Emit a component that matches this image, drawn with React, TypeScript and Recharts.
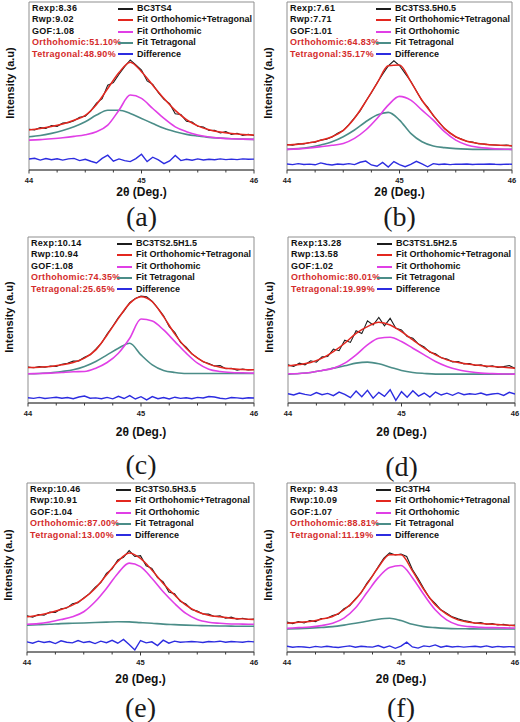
import React from 'react';
import { LineChart, Line, XAxis, YAxis, ReferenceArea } from 'recharts';

// 2θ grids: fitted profiles are sampled every 0.1°, measured data and residuals every 0.05°
const coarseTheta = [44.0, 44.1, 44.2, 44.3, 44.4, 44.5, 44.6, 44.7, 44.8, 44.9, 45.0, 45.1, 45.2, 45.3, 45.4, 45.5, 45.6, 45.7, 45.8, 45.9, 46.0];
const fineTheta = [
  44.0, 44.05, 44.1, 44.15, 44.2, 44.25, 44.3, 44.35, 44.4, 44.45, 44.5, 44.55, 44.6, 44.65, 44.7, 44.75, 44.8, 44.85, 44.9, 44.95,
  45.0, 45.05, 45.1, 45.15, 45.2, 45.25, 45.3, 45.35, 45.4, 45.45, 45.5, 45.55, 45.6, 45.65, 45.7, 45.75, 45.8, 45.85, 45.9, 45.95, 46.0,
];
const thetaTicks = [44, 44.25, 44.5, 44.75, 45, 45.25, 45.5, 45.75, 46];
const thetaLabels = [44, 45, 46];

const sampleNames = ['BC3TS4', 'BC3TS3.5H0.5', 'BC3TS2.5H1.5', 'BC3TS1.5H2.5', 'BC3TS0.5H3.5', 'BC3TH4'];
const panelTags = ['(a)', '(b)', '(c)', '(d)', '(e)', '(f)'];
const rexpLabels = ['Rexp:8.36', 'Rexp:7.61', 'Rexp:10.14', 'Rexp:13.28', 'Rexp:10.46', 'Rexp: 9.43'];
const rwpLabels = ['Rwp:9.02', 'Rwp:7.71', 'Rwp:10.94', 'Rwp:13.58', 'Rwp:10.91', 'Rwp:10.09'];
const gofLabels = ['GOF:1.08', 'GOF:1.01', 'GOF:1.08', 'GOF:1.02', 'GOF:1.04', 'GOF:1.07'];
const orthoShare = ['51.10%', '64.83%', '74.35%', '80.01%', '87.00%', '88.81%'];
const tetraShare = ['48.90%', '35.17%', '25.65%', '19.99%', '13.00%', '11.19%'];

const fitNames = ['Fit Orthohomic+Tetragonal', 'Fit Orthohomic', 'Fit Tetragonal', 'Difference'];

// (a) BC3TS4
const obsA = [24.3, 23.9, 25.2, 24.8, 26.5, 26.0, 27.9, 28.2, 29.3, 31.4, 32.0, 35.2, 39.8, 42.5, 50.5, 52.0, 57.0, 61.5, 65.5, 62.5, 59.5, 53.0, 51.0, 46.0, 42.0, 39.5, 33.5, 33.0, 29.0, 28.5, 26.0, 25.6, 23.5, 23.6, 22.0, 22.8, 21.2, 21.9, 20.6, 21.3, 20.5];
const fitA = [23.8, 24.7, 25.9, 27.4, 29.6, 32.5, 39.0, 48.5, 58.0, 64.2, 58.5, 50.5, 42.5, 35.5, 30.0, 26.3, 24.0, 22.6, 21.7, 21.1, 20.8];
const orthoA = [17.8, 18.1, 18.6, 19.2, 20.0, 21.0, 22.8, 26.7, 35.6, 44.6, 42.6, 36.6, 30.7, 25.7, 22.8, 20.8, 19.6, 19.0, 18.6, 18.4, 18.2];
const tetraA = [19.8, 20.5, 21.8, 23.5, 25.7, 28.7, 32.7, 35.6, 35.6, 33.7, 30.7, 27.7, 24.8, 22.8, 21.2, 20.2, 19.4, 19.0, 18.6, 18.4, 18.2];
const diffA = [6.5, 7.0, 5.9, 6.8, 6.1, 6.7, 5.9, 6.6, 6.9, 5.6, 6.4, 5.2, 4.2, 6.9, 8.8, 5.2, 6.6, 5.6, 5.0, 6.8, 9.4, 5.0, 7.6, 6.0, 3.8, 5.4, 8.6, 5.6, 6.4, 5.8, 6.6, 6.0, 6.4, 6.1, 6.6, 6.2, 6.5, 6.2, 6.6, 6.4, 6.5];

// (b) BC3TS3.5H0.5
const obsB = [15.2, 14.8, 15.6, 15.5, 16.4, 16.6, 17.8, 18.3, 19.6, 21.9, 23.5, 27.0, 31.0, 35.2, 40.9, 46.0, 51.8, 57.0, 62.0, 65.0, 62.2, 57.5, 52.8, 47.0, 41.2, 37.5, 32.4, 28.5, 24.6, 22.0, 19.6, 18.4, 17.0, 16.6, 15.6, 15.5, 15.0, 14.9, 14.6, 14.8, 14.3];
const fitB = [14.9, 15.3, 16.2, 17.7, 19.8, 23.6, 30.8, 40.7, 51.6, 62.0, 62.5, 52.6, 41.5, 32.6, 24.8, 19.8, 17.1, 15.8, 15.1, 14.7, 14.5];
const orthoB = [12.3, 12.6, 13.1, 13.9, 14.7, 15.8, 18.8, 23.8, 30.7, 38.6, 43.8, 41.6, 35.6, 29.7, 22.8, 17.8, 14.9, 13.5, 12.9, 12.5, 12.3];
const tetraB = [12.3, 12.7, 13.5, 14.9, 16.8, 19.8, 23.8, 28.7, 32.7, 34.3, 29.7, 21.8, 16.8, 14.3, 13.3, 12.7, 12.4, 12.3, 12.3, 12.3, 12.3];
const diffB = [3.6, 3.2, 3.8, 3.3, 3.5, 3.1, 4.2, 3.4, 3.0, 3.6, 3.3, 3.8, 3.2, 4.6, 5.3, 3.0, 2.2, 4.5, 1.8, 5.0, 3.2, 2.0, 3.4, 5.2, 3.6, 1.9, 3.8, 3.3, 3.6, 3.2, 3.5, 3.4, 3.6, 3.3, 3.5, 3.4, 3.6, 3.4, 3.3, 3.5, 3.4];

// (c) BC3TS2.5H1.5
const obsC = [21.6, 21.2, 21.9, 21.5, 22.3, 22.0, 23.3, 23.9, 25.2, 25.4, 27.6, 29.0, 32.4, 36.0, 41.6, 46.2, 51.4, 55.5, 60.4, 63.0, 64.4, 64.0, 61.2, 57.0, 52.6, 46.0, 42.4, 36.5, 33.6, 29.6, 27.2, 24.8, 23.8, 22.3, 22.6, 20.6, 20.9, 19.8, 20.5, 19.9, 20.2];
const fitC = [21.4, 21.6, 22.0, 23.0, 24.4, 27.0, 32.0, 41.0, 51.0, 60.0, 64.0, 61.0, 52.0, 41.5, 33.0, 27.0, 23.4, 21.6, 20.6, 20.2, 20.0];
const orthoC = [17.6, 17.8, 18.0, 18.4, 18.8, 19.0, 21.0, 24.4, 30.0, 39.0, 50.6, 49.4, 44.0, 37.0, 30.0, 24.0, 20.4, 19.0, 18.4, 18.2, 18.0];
const tetraC = [17.6, 17.8, 18.2, 19.0, 20.0, 22.0, 25.0, 29.0, 33.0, 36.0, 29.0, 23.0, 19.6, 18.4, 17.8, 17.8, 17.8, 17.8, 17.8, 17.8, 17.8];
const diffC = [3.2, 2.8, 3.4, 2.7, 3.1, 3.5, 2.9, 3.3, 2.6, 3.6, 4.2, 2.9, 3.1, 2.6, 3.4, 2.5, 4.0, 2.7, 4.5, 2.4, 3.8, 1.9, 3.9, 2.6, 3.3, 2.4, 3.5, 2.8, 3.2, 2.6, 3.4, 3.0, 3.9, 3.6, 2.9, 2.5, 3.3, 3.1, 2.7, 3.2, 3.0];

// (d) BC3TS1.5H2.5
const obsD = [23.0, 22.0, 24.0, 23.0, 25.4, 24.6, 27.8, 28.0, 32.5, 31.5, 37.8, 36.5, 43.5, 41.8, 49.5, 47.0, 51.5, 46.5, 51.0, 45.0, 44.0, 40.0, 39.0, 35.5, 33.8, 30.5, 29.6, 27.2, 26.5, 24.8, 25.0, 23.6, 23.8, 22.6, 23.0, 21.8, 22.4, 21.4, 21.9, 22.6, 20.8];
const fitD = [22.4, 23.2, 24.4, 27.0, 31.0, 36.0, 42.0, 46.0, 48.6, 47.0, 43.0, 38.0, 33.0, 29.0, 26.0, 24.4, 23.4, 22.6, 22.0, 21.5, 21.0];
const orthoD = [17.6, 17.8, 18.4, 19.6, 21.0, 24.0, 29.0, 35.0, 39.0, 39.6, 37.0, 33.0, 29.0, 25.0, 22.0, 20.0, 18.8, 18.0, 17.7, 17.5, 17.4];
const tetraD = [17.4, 17.8, 18.4, 19.6, 21.0, 22.4, 24.0, 24.6, 23.6, 21.6, 19.6, 18.4, 17.8, 17.4, 17.4, 17.4, 17.4, 17.4, 17.4, 17.4, 17.4];
const diffD = [5.6, 4.8, 6.0, 5.2, 4.6, 6.3, 5.0, 5.8, 4.4, 6.6, 5.2, 3.2, 7.2, 3.8, 7.6, 2.9, 6.4, 4.0, 8.0, 1.6, 6.8, 3.5, 7.4, 4.2, 6.0, 3.6, 6.6, 4.8, 5.9, 4.6, 6.2, 5.0, 5.6, 5.2, 6.0, 4.8, 5.4, 5.8, 4.6, 6.4, 5.4];

// (e) BC3TS0.5H3.5
const obsE = [21.5, 20.6, 22.2, 21.8, 23.6, 23.4, 25.6, 26.0, 28.6, 29.2, 32.0, 34.5, 38.2, 41.0, 46.5, 49.2, 54.5, 56.0, 60.0, 56.5, 57.0, 51.0, 49.5, 44.0, 41.5, 35.5, 34.5, 30.0, 28.4, 25.2, 24.2, 22.5, 22.4, 21.0, 21.4, 20.0, 20.6, 19.4, 20.0, 19.2, 19.5];
const fitE = [20.8, 21.8, 23.2, 25.1, 27.7, 31.7, 37.6, 45.5, 53.5, 58.6, 55.4, 48.5, 40.6, 33.7, 27.7, 23.8, 21.8, 20.8, 20.0, 19.6, 19.2];
const orthoE = [16.4, 16.8, 17.8, 19.2, 20.8, 23.8, 29.7, 37.6, 46.5, 52.6, 50.5, 43.6, 35.6, 28.7, 22.8, 19.2, 17.6, 17.0, 16.6, 16.5, 16.4];
const tetraE = [15.8, 16.1, 16.4, 16.8, 17.0, 17.2, 17.5, 17.7, 17.9, 17.8, 17.4, 17.0, 16.5, 16.2, 15.9, 15.7, 15.5, 15.4, 15.3, 15.2, 15.2];
const diffE = [6.0, 5.2, 6.4, 5.6, 6.2, 5.0, 6.6, 5.8, 5.4, 6.8, 5.6, 6.2, 5.0, 6.4, 5.5, 6.9, 5.2, 7.4, 4.4, 1.2, 6.8, 5.4, 6.0, 3.8, 7.0, 5.2, 6.4, 5.8, 6.0, 6.2, 6.0, 5.6, 6.2, 6.0, 6.4, 5.8, 6.2, 6.0, 5.8, 6.3, 6.0];

// (f) BC3TH4
const obsF = [17.8, 16.8, 18.0, 17.2, 18.6, 18.0, 19.8, 20.0, 21.6, 22.4, 25.6, 27.4, 31.4, 35.0, 40.6, 45.0, 50.4, 55.5, 58.6, 57.4, 58.0, 56.5, 48.8, 43.5, 37.6, 32.0, 28.8, 25.0, 23.0, 20.8, 19.6, 18.6, 18.0, 17.0, 17.4, 16.4, 16.8, 16.0, 16.4, 15.6, 16.0];
const fitF = [17.0, 17.6, 18.0, 19.4, 21.0, 25.0, 31.0, 40.0, 50.0, 57.5, 57.5, 48.0, 37.0, 28.0, 22.4, 19.0, 17.6, 16.8, 16.4, 16.0, 15.6];
const orthoF = [14.0, 14.4, 14.8, 15.6, 17.0, 20.0, 26.0, 35.0, 44.0, 50.0, 51.2, 44.0, 34.0, 25.0, 19.0, 16.0, 15.0, 14.6, 14.4, 14.3, 14.2];
const tetraF = [13.6, 13.8, 14.1, 14.5, 15.0, 15.9, 17.0, 18.2, 19.4, 20.0, 18.6, 16.4, 15.0, 14.4, 14.0, 13.8, 13.7, 13.6, 13.6, 13.6, 13.6];
const diffF = [3.4, 2.8, 3.2, 3.0, 2.6, 3.3, 2.9, 3.4, 3.0, 2.7, 3.2, 3.6, 2.8, 3.4, 3.1, 2.9, 3.8, 2.5, 3.6, 2.2, 3.5, 5.8, 3.0, 2.3, 3.6, 3.2, 4.2, 2.8, 3.5, 3.0, 3.3, 2.9, 3.2, 3.4, 3.0, 3.6, 2.8, 3.3, 3.0, 3.2, 3.0];

const panelSeries = [
  { obs: obsA, fit: fitA, ortho: orthoA, tetra: tetraA, diff: diffA },
  { obs: obsB, fit: fitB, ortho: orthoB, tetra: tetraB, diff: diffB },
  { obs: obsC, fit: fitC, ortho: orthoC, tetra: tetraC, diff: diffC },
  { obs: obsD, fit: fitD, ortho: orthoD, tetra: tetraD, diff: diffD },
  { obs: obsE, fit: fitE, ortho: orthoE, tetra: tetraE, diff: diffE },
  { obs: obsF, fit: fitF, ortho: orthoF, tetra: tetraF, diff: diffF },
];

// frame box of each plot on the page, plus where the axis title and panel tag sit
const panelLayout = [
  { x: 29, y: 2, w: 225, h: 168, titleY: 192, tagY: 217 },
  { x: 287, y: 2, w: 225, h: 168, titleY: 192, tagY: 217 },
  { x: 28, y: 237, w: 226, h: 166, titleY: 432, tagY: 465 },
  { x: 288, y: 237, w: 227, h: 166, titleY: 432, tagY: 467 },
  { x: 27, y: 483, w: 227, h: 169, titleY: 679, tagY: 708 },
  { x: 287, y: 483, w: 228, h: 169, titleY: 679, tagY: 708 },
];

const COLORS = {
  obs: '#1c1c1c',
  fit: '#e3271f',
  ortho: '#e03fe6',
  tetra: '#4b8d88',
  diff: '#2c2ce0',
  share: '#d42b2b',
};

const SANS = '"Liberation Sans", Arial, sans-serif';
const PADX = 10;
const PADY = 2;
const AXIS_H = 14;

const toPoints = (xs: number[], ys: number[]) => xs.map((theta, i) => ({ theta, value: ys[i] }));

const ThetaTick = (props: any) => {
  const { x, y, payload } = props;
  const major = thetaLabels.includes(payload.value);
  return (
    <g>
      <line x1={x} x2={x} y1={y} y2={y + (major ? 3.5 : 2.5)} stroke="#3a3a3a" strokeWidth={1} />
      {major && (
        <text x={x} y={y + 12.5} textAnchor="middle" fontSize={7.5} fontWeight={700} fill="#222" fontFamily={SANS}>
          {payload.value}
        </text>
      )}
    </g>
  );
};

const Panel = ({ index }: { index: number }) => {
  const box = panelLayout[index];
  const s = panelSeries[index];
  const legend = [
    { name: sampleNames[index], color: COLORS.obs },
    { name: fitNames[0], color: COLORS.fit },
    { name: fitNames[1], color: COLORS.ortho },
    { name: fitNames[2], color: COLORS.tetra },
    { name: fitNames[3], color: COLORS.diff },
  ];
  const stats = [
    { text: rexpLabels[index], color: '#111' },
    { text: rwpLabels[index], color: '#111' },
    { text: gofLabels[index], color: '#111' },
    { text: `Orthohomic:${orthoShare[index]}`, color: COLORS.share },
    { text: `Tetragonal:${tetraShare[index]}`, color: COLORS.share },
  ];
  const textStyle: React.CSSProperties = {
    fontFamily: SANS,
    fontWeight: 700,
    fontSize: 9,
    lineHeight: '11.4px',
    whiteSpace: 'nowrap',
  };

  return (
    <>
      <div style={{ position: 'absolute', left: box.x - PADX, top: box.y - PADY }}>
        <LineChart
          width={box.w + 2 * PADX}
          height={box.h + 2 * PADY + AXIS_H}
          margin={{ top: PADY, right: PADX, bottom: PADY, left: PADX }}
        >
          <XAxis
            type="number"
            dataKey="theta"
            domain={[44, 46]}
            ticks={thetaTicks}
            interval={0}
            allowDataOverflow
            height={AXIS_H}
            tickSize={0}
            tickMargin={0}
            tickLine={false}
            axisLine={{ stroke: '#3a3a3a', strokeWidth: 1 }}
            tick={<ThetaTick />}
          />
          <YAxis type="number" domain={[0, 100]} hide allowDataOverflow />
          <ReferenceArea x1={44} x2={46} y1={0} y2={100} fill="none" stroke="#8f8f8f" strokeWidth={1} ifOverflow="visible" />
          <Line data={toPoints(coarseTheta, s.tetra)} dataKey="value" name={fitNames[2]} type="monotone" stroke={COLORS.tetra} strokeWidth={1.6} dot={false} isAnimationActive={false} />
          <Line data={toPoints(coarseTheta, s.ortho)} dataKey="value" name={fitNames[1]} type="monotone" stroke={COLORS.ortho} strokeWidth={1.6} dot={false} isAnimationActive={false} />
          <Line data={toPoints(fineTheta, s.diff)} dataKey="value" name={fitNames[3]} type="linear" stroke={COLORS.diff} strokeWidth={1.4} dot={false} isAnimationActive={false} />
          <Line data={toPoints(fineTheta, s.obs)} dataKey="value" name={sampleNames[index]} type="linear" stroke={COLORS.obs} strokeWidth={1.1} dot={false} isAnimationActive={false} />
          <Line data={toPoints(coarseTheta, s.fit)} dataKey="value" name={fitNames[0]} type="monotone" stroke={COLORS.fit} strokeWidth={1.5} dot={false} isAnimationActive={false} />
        </LineChart>
      </div>

      {/* refinement figures of merit */}
      <div style={{ position: 'absolute', left: box.x + 3, top: box.y + 1, ...textStyle, letterSpacing: 0.3 }}>
        {stats.map((r) => (
          <div key={r.text} style={{ color: r.color }}>{r.text}</div>
        ))}
      </div>

      {/* legend */}
      <div style={{ position: 'absolute', left: box.x + 89, top: box.y + 1, ...textStyle }}>
        {legend.map((l) => (
          <div key={l.name} style={{ display: 'flex', alignItems: 'center', color: '#111' }}>
            <span style={{ display: 'inline-block', width: 15, height: 2, background: l.color, marginRight: 4, flexShrink: 0 }} />
            {l.name}
          </div>
        ))}
      </div>

      <div
        style={{
          position: 'absolute',
          left: box.x - 19,
          top: box.y + box.h / 2 - 3,
          transform: 'translate(-50%, -50%) rotate(-90deg)',
          fontFamily: SANS,
          fontWeight: 700,
          fontSize: 11,
          whiteSpace: 'nowrap',
          color: '#111',
        }}
      >
        Intensity (a.u)
      </div>

      <div
        style={{
          position: 'absolute',
          left: box.x + box.w / 2,
          top: box.titleY,
          transform: 'translate(-50%, -50%)',
          fontFamily: SANS,
          fontWeight: 700,
          fontSize: 12,
          whiteSpace: 'nowrap',
          color: '#111',
        }}
      >
        2θ (Deg.)
      </div>

      <div
        style={{
          position: 'absolute',
          left: box.x + box.w / 2,
          top: box.tagY,
          transform: 'translate(-50%, -50%)',
          fontFamily: '"Liberation Serif", "Times New Roman", serif',
          fontSize: 28,
          lineHeight: 1,
          whiteSpace: 'nowrap',
          color: '#1a1a1a',
        }}
      >
        {panelTags[index]}
      </div>
    </>
  );
};

export default function App() {
  return (
    <div style={{ position: 'absolute', left: 0, top: 0, width: 520, height: 722, background: '#fff', overflow: 'hidden' }}>
      {panelLayout.map((_, i) => (
        <Panel key={i} index={i} />
      ))}
    </div>
  );
}
